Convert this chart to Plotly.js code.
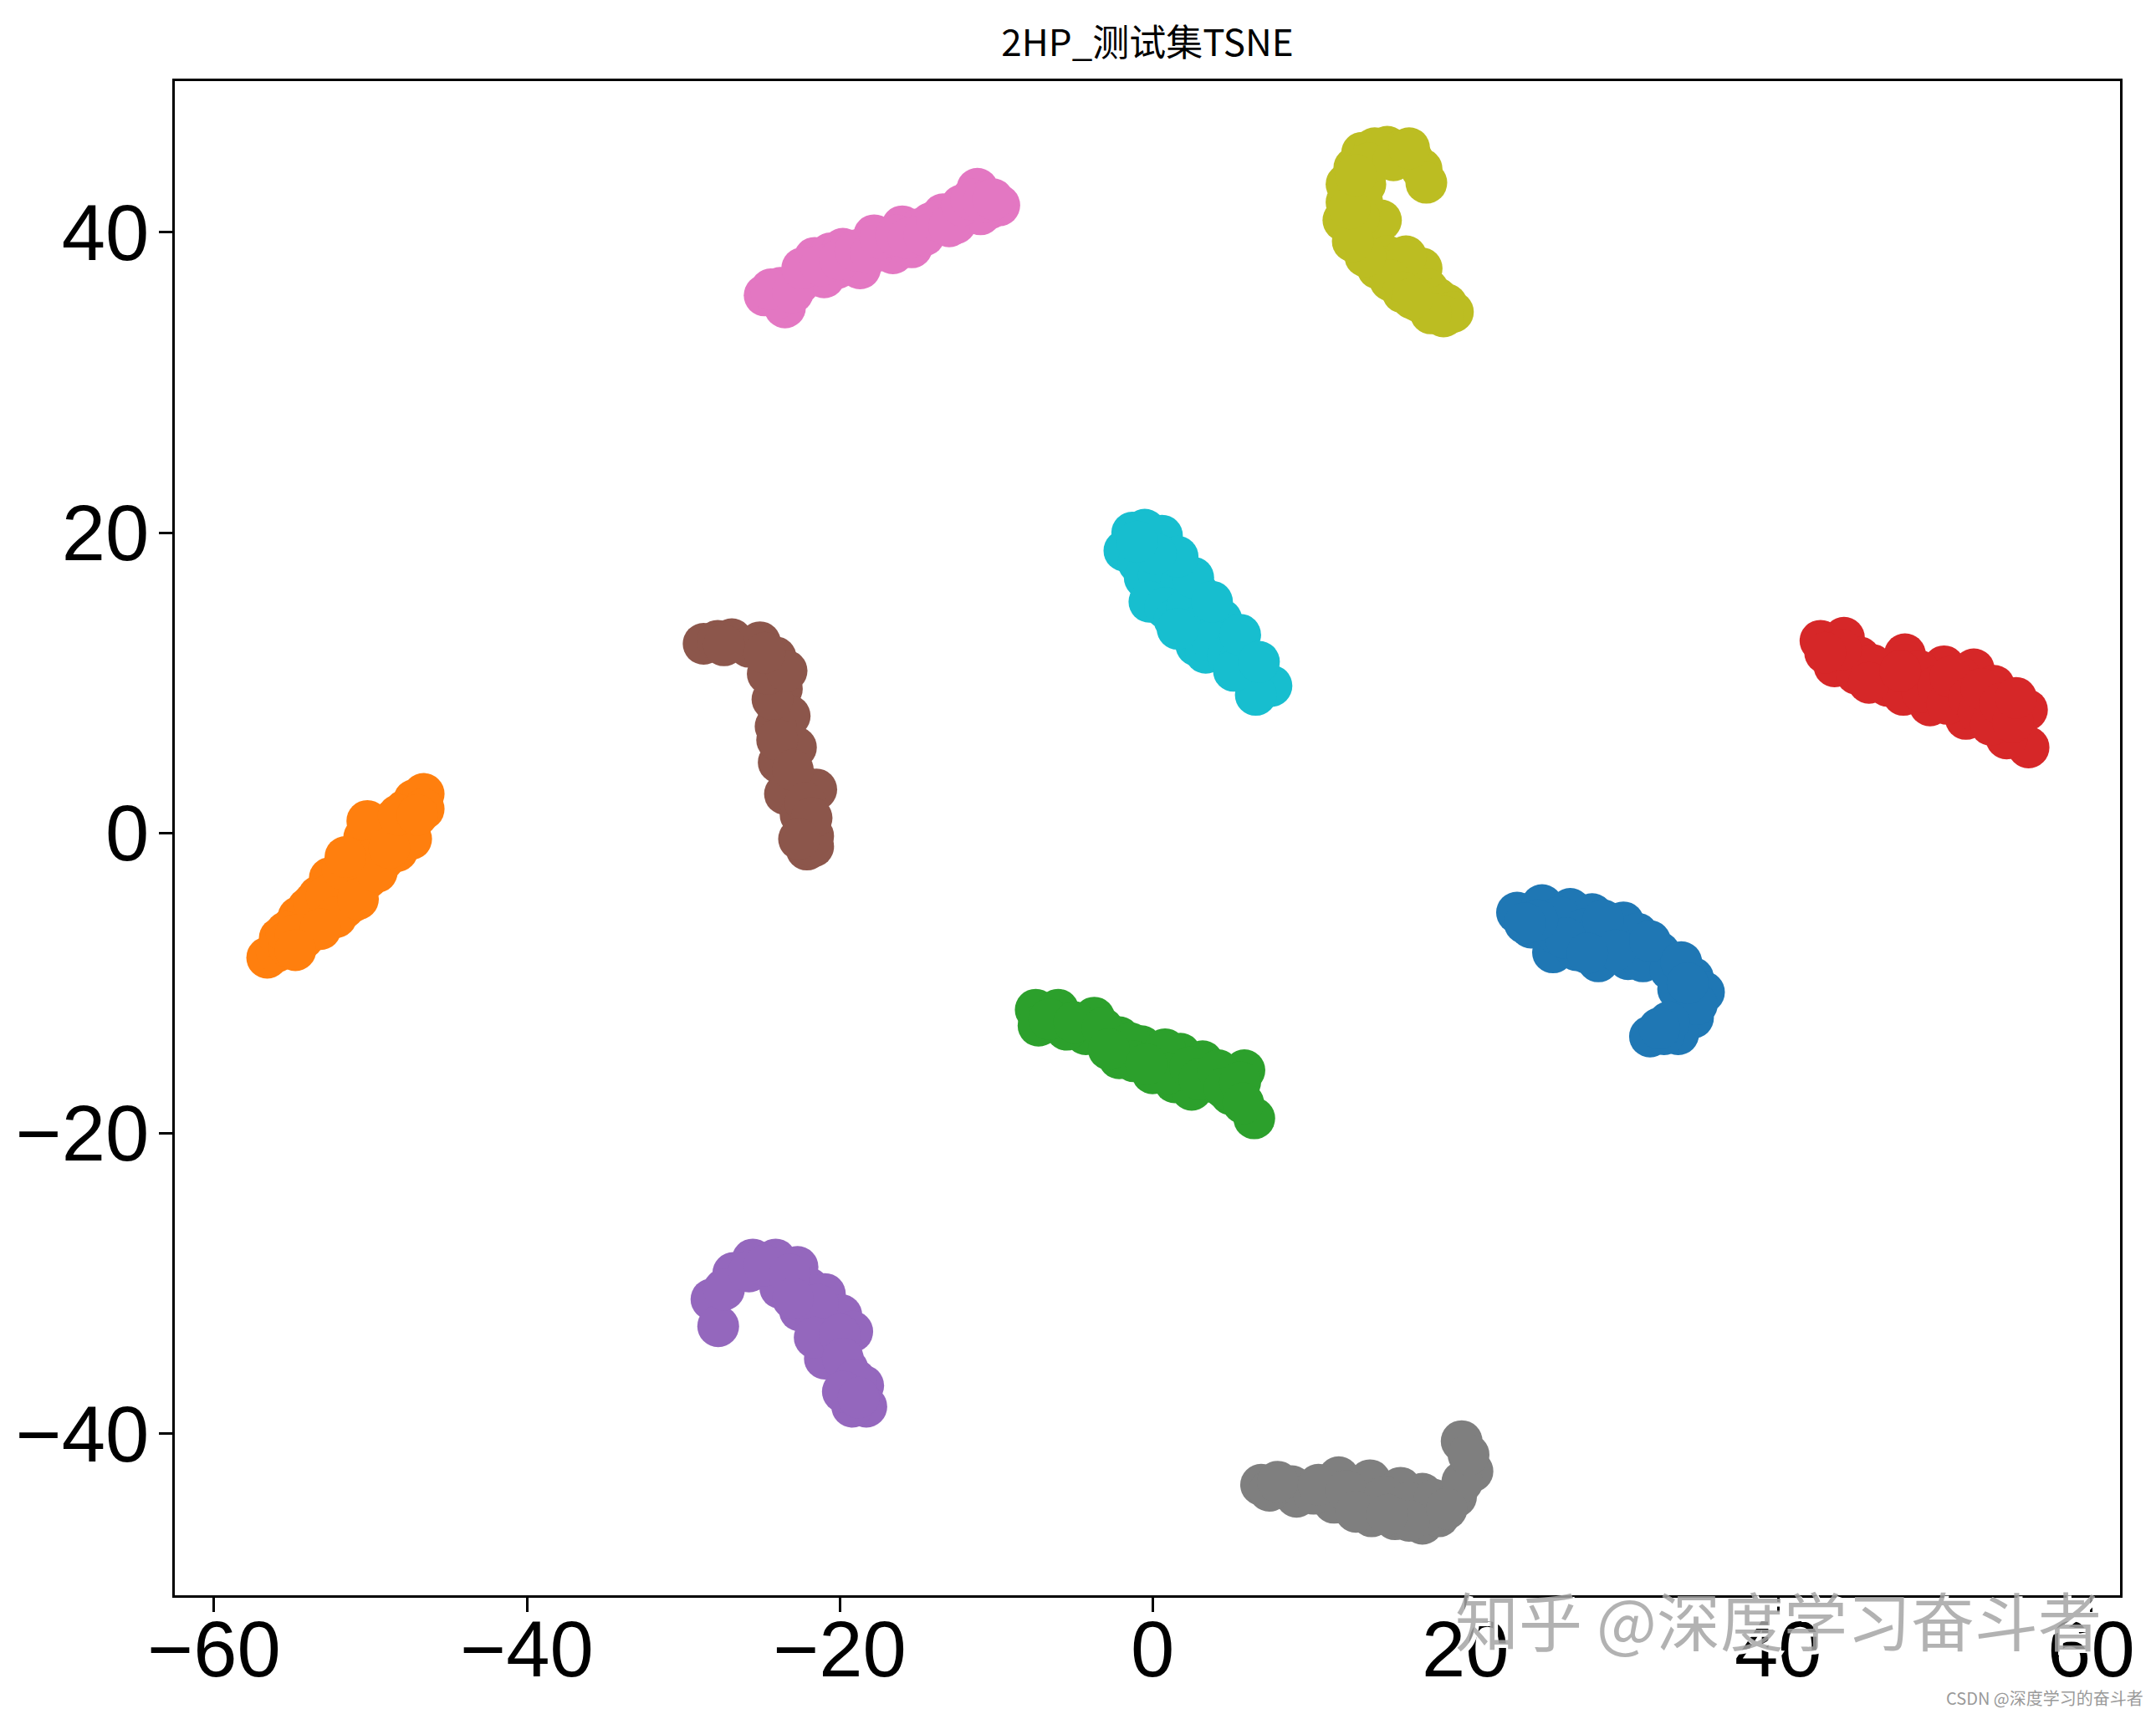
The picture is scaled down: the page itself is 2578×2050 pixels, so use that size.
<!DOCTYPE html>
<html>
<head>
<meta charset="utf-8">
<script src="https://cdn.plot.ly/plotly-3.0.1.min.js"></script>
<style>html,body{margin:0;padding:0;background:#fff;}#chart{width:2578px;height:2050px;}</style>
</head>
<body>
<div id="chart"></div>
<script>
// ---- data ----
const classNames = ["0","1","2","3","4","5","6","7","8","9"];
const classColors = ["#1f77b4","#ff7f0e","#2ca02c","#d62728","#9467bd","#8c564b","#e377c2","#7f7f7f","#bcbd22","#17becf"];

const c0x = [23.3,24.9,24.2,25.6,26.7,28.1,27.1,28.5,30.1,30.4,31.0,29.2,32.4,31.35,33.1,34.55,35.25,34.0,34.55,33.6,31.8,32.7,33.6,25.8,26.0,27.6,28.8,29.6,26.4,24.6,31.8,33.8,34.8,33.0,32.4,23.8,27.8,34.2];
const c0y = [-5.3,-4.8,-6.3,-7.95,-5.05,-5.4,-7.8,-8.55,-5.95,-8.4,-6.7,-7.0,-7.95,-8.55,-9.1,-9.65,-10.6,-11.2,-12.3,-13.4,-13.55,-13.4,-10.4,-6.7,-5.6,-6.4,-5.8,-7.8,-7.0,-5.8,-7.2,-8.6,-11.4,-12.6,-13.0,-6.0,-8.0,-10.0];

const c1x = [-56.6,-56.0,-55.8,-55.2,-55.0,-54.6,-54.3,-54.0,-53.7,-53.3,-53.0,-52.6,-52.4,-52.0,-51.7,-51.4,-51.0,-50.6,-50.4,-50.2,-49.8,-49.5,-49.2,-49.0,-48.6,-48.3,-48.0,-47.8,-47.4,-47.2,-46.6,-46.6,-51.2,-47.4,-50.2,-55.4,-54.8,-53.6,-52.8,-51.8,-52.2,-50.8,-50.0,-49.6,-48.8,-48.2,-47.0,-53.2,-54.8,-51.6];
const c1y = [-8.3,-7.9,-7.0,-7.6,-6.3,-5.6,-7.0,-5.0,-6.2,-4.2,-5.5,-3.0,-4.6,-3.6,-5.0,-2.8,-3.8,-2.0,-0.3,-3.0,-1.0,0.5,-1.8,-0.2,0.8,-1.2,0.2,1.5,0.6,2.2,2.6,1.6,-4.6,-0.4,0.8,-6.6,-6.8,-4.6,-4.2,-2.4,-5.6,-4.4,-1.8,-2.6,-1.0,1.2,1.2,-6.4,-7.8,-1.6];

const c2x = [-7.47,-6.04,-7.29,-3.73,-4.27,-2.13,-0.71,-2.13,0.36,1.78,1.42,3.2,3.9,5.87,5.0,6.5,0.0,-5.5,2.5,-6.6,-5.0,-3.2,-1.4,-1.2,0.8,1.0,2.4,3.0,4.2,4.6,5.6,5.8,-2.8,-0.4];
const c2y = [-11.77,-11.77,-12.83,-12.3,-13.4,-13.6,-14.2,-15.0,-15.2,-14.7,-16.6,-15.2,-16.6,-15.8,-17.4,-19.0,-16.0,-13.1,-17.1,-12.4,-12.6,-13.0,-14.0,-15.2,-14.4,-16.0,-15.6,-16.4,-15.8,-17.0,-16.6,-18.0,-14.4,-15.4];

const c3x = [42.7,44.2,43.6,45.2,46.5,48.1,48.4,49.7,50.6,51.3,52.0,52.5,53.8,53.4,54.5,55.9,56.0,54.6,51.6,47.4,45.0,46.0,47.0,48.0,49.0,49.2,50.2,50.8,51.0,52.2,52.8,53.0,53.6,54.2,55.0,55.2,44.0,43.0,45.8,47.8];
const c3y = [12.8,13.0,11.1,11.7,10.55,11.9,10.0,8.5,11.1,9.3,7.6,10.9,9.8,8.15,7.0,8.2,5.7,6.3,10.4,10.2,10.6,11.2,9.8,9.2,10.8,9.4,9.8,8.6,10.4,9.0,8.0,9.6,7.2,8.6,7.4,9.0,12.2,12.0,10.0,10.8];

const c4x = [-28.2,-27.77,-26.8,-25.56,-24.1,-22.7,-22.0,-23.8,-22.55,-20.95,-19.9,-19.2,-20.95,-20.25,-19.5,-20.95,-18.5,-18.3,-19.2,-27.4,-25.8,-24.8,-23.2,-21.4,-21.6,-20.0,-19.8,-19.0,-19.8,-18.8,-23.0];
const c4y = [-31.05,-32.84,-29.3,-28.4,-28.4,-28.9,-30.3,-30.3,-31.8,-30.7,-32.1,-33.2,-32.8,-34.3,-35.7,-35.0,-36.8,-38.2,-38.2,-30.4,-29.2,-28.8,-29.4,-31.4,-33.6,-33.4,-35.0,-36.4,-37.2,-37.6,-31.0];

const c5x = [-28.7,-26.9,-25.1,-24.1,-23.7,-23.2,-24.1,-24.3,-22.8,-23.9,-22.6,-23.5,-21.5,-22.5,-21.7,-22.1,-21.7,-27.8,-24.6,-23.4,-24.0,-23.0,-22.2,-21.8,-22.6,-25.8,-27.4,-24.8];
const c5y = [12.6,12.9,12.7,11.7,9.6,7.8,7.1,8.9,5.7,4.7,3.3,2.6,2.9,1.2,-0.2,-1.1,-0.9,12.8,10.6,10.8,6.2,4.2,2.0,1.0,-0.4,12.4,12.5,12.0];

const c6x = [-24.8,-23.5,-23.8,-22.6,-22.0,-21.6,-20.6,-20.2,-19.3,-18.7,-18.4,-17.8,-17.0,-16.6,-16.0,-15.4,-15.0,-14.2,-13.4,-12.6,-12.0,-11.2,-10.4,-9.8,-11.0,-21.0,-19.8,-24.0,-24.4,-23.0,-22.4,-21.2,-20.0,-19.0,-18.0,-17.4,-16.4,-15.6,-14.6,-13.8,-13.0,-12.2,-11.6,-10.8,-10.2];
const c6y = [35.8,35.0,36.3,36.6,37.2,38.3,38.6,37.6,38.2,37.6,39.0,39.8,39.3,38.6,40.4,39.0,40.2,40.6,41.2,40.6,41.4,42.9,41.6,41.8,41.2,37.0,38.9,35.6,36.2,36.0,37.6,37.8,38.2,38.8,38.6,39.6,39.8,39.6,39.8,40.8,40.4,41.8,42.2,42.0,42.2];

const c7x = [6.94,19.76,20.45,8.9,9.2,11.9,11.6,13.9,14.0,15.85,15.5,17.25,17.25,18.3,19.4,10.3,13.0,7.47,8.0,10.6,12.4,14.8,16.4,18.0,16.4,13.0,19.8,20.2,15.0,18.8];
const c7y = [-43.4,-40.5,-42.5,-43.5,-44.2,-42.9,-44.6,-43.1,-45.5,-43.6,-45.7,-44.0,-46.0,-45.5,-44.2,-44.0,-44.7,-43.8,-43.2,-43.4,-43.8,-44.2,-44.6,-44.4,-45.8,-45.2,-43.2,-41.4,-45.4,-45.0];

const c8x = [12.2,12.4,12.4,12.9,13.4,14.2,15.0,15.8,16.6,17.2,17.5,13.2,14.0,14.0,14.6,13.6,13.4,15.0,15.6,16.2,16.8,17.2,17.6,18.2,18.8,19.2,18.6,16.2,13.2,14.4,15.2,16.0,17.0,17.8,13.6,12.8,12.6,13.8,15.4,16.4,13.0,16.6];
const c8y = [40.8,42.0,43.2,44.3,45.3,45.6,45.7,45.4,44.9,44.2,43.3,39.8,39.0,40.4,40.8,43.2,42.0,38.4,37.9,37.2,36.8,37.6,36.2,35.6,35.2,34.7,34.4,38.4,41.0,37.6,36.8,36.0,35.4,34.6,38.4,39.4,41.6,44.6,44.8,45.6,43.8,35.6];

const c9x = [-1.3,-0.5,0.6,-1.8,-0.9,-0.5,0.4,1.8,2.9,-0.2,0.8,1.4,2.2,3.0,4.4,4.6,2.8,3.4,3.8,4.8,5.6,6.0,7.0,7.6,6.6,5.2,1.6,2.6,1.6,3.8,5.6,6.8,0.2,-1.0];
const c9y = [20.0,20.2,19.8,18.8,18.0,17.0,17.2,16.6,16.0,15.4,15.0,14.2,15.0,13.8,14.2,13.0,12.5,12.0,12.8,11.8,11.6,10.6,10.2,9.8,9.2,10.8,13.6,17.0,18.4,15.4,13.2,11.4,18.6,19.4];

const xTickVals = [-60,-40,-20,0,20,40,60];
const yTickVals = [-40,-20,0,20,40];
const titleText = "2HP_测试集TSNE";
const watermarkText = "知乎 @深度学习奋斗者";
const csdnText = "CSDN @深度学习的奋斗者";

// ---- chart ----
const xs = [c0x,c1x,c2x,c3x,c4x,c5x,c6x,c7x,c8x,c9x];
const ys = [c0y,c1y,c2y,c3y,c4y,c5y,c6y,c7y,c8y,c9y];
const traces = xs.map((x,i)=>({
  type:'scatter', mode:'markers', x:x, y:ys[i], name:classNames[i],
  marker:{color:classColors[i], size:50, line:{width:0}}, hoverinfo:'skip'
}));

const tickFont = {family:'"Liberation Sans", Arial, sans-serif', size:94, color:'#000'};
const fmt = v => (v<0 ? '\u2212'+Math.abs(v) : String(v));

const layout = {
  width:2578, height:2050,
  paper_bgcolor:'#fff', plot_bgcolor:'#fff',
  showlegend:false,
  margin:{l:209, r:43, t:97, b:142, pad:0},
  title:{text:titleText, font:{family:'"Noto Sans CJK SC", sans-serif', size:44, color:'#000'},
         x:0.5, xref:'paper', y:1-52/2050, yref:'container', xanchor:'center', yanchor:'middle'},
  xaxis:{range:[-62.51,61.85], autorange:false, showgrid:false, zeroline:false,
         showline:true, linecolor:'#000', linewidth:3, mirror:true,
         ticks:'outside', ticklen:17, tickwidth:3, tickcolor:'#000', ticklabelstandoff:-36,
         tickvals:xTickVals, ticktext:xTickVals.map(fmt), tickfont:tickFont},
  yaxis:{range:[-50.76,50.07], autorange:false, showgrid:false, zeroline:false,
         showline:true, linecolor:'#000', linewidth:3, mirror:true,
         ticks:'outside', ticklen:16, tickwidth:3, tickcolor:'#000', ticklabelstandoff:-7,
         tickvals:yTickVals, ticktext:yTickVals.map(fmt), tickfont:tickFont},
  annotations:[
    {text:watermarkText, xref:'paper', yref:'paper', x:(2126-209)/2326, y:(1908-1936)/1811,
     xanchor:'center', yanchor:'middle', showarrow:false, xshift:4, yshift:-4,
     font:{family:'"Noto Sans CJK SC", sans-serif', size:76, color:'#ffffff'}},
    {text:watermarkText, xref:'paper', yref:'paper', x:(2126-209)/2326, y:(1908-1936)/1811,
     xanchor:'center', yanchor:'middle', showarrow:false,
     font:{family:'"Noto Sans CJK SC", sans-serif', size:76, color:'rgba(165,165,165,0.85)'}},
    {text:csdnText, xref:'paper', yref:'paper', x:(2565-209)/2326, y:(1908-2030)/1811,
     xanchor:'right', yanchor:'middle', showarrow:false,
     font:{family:'"Noto Sans CJK SC", sans-serif', size:20, color:'#9a9a9a'}}
  ]
};

Plotly.newPlot('chart', traces, layout, {staticPlot:true, displayModeBar:false});
</script>
</body>
</html>
